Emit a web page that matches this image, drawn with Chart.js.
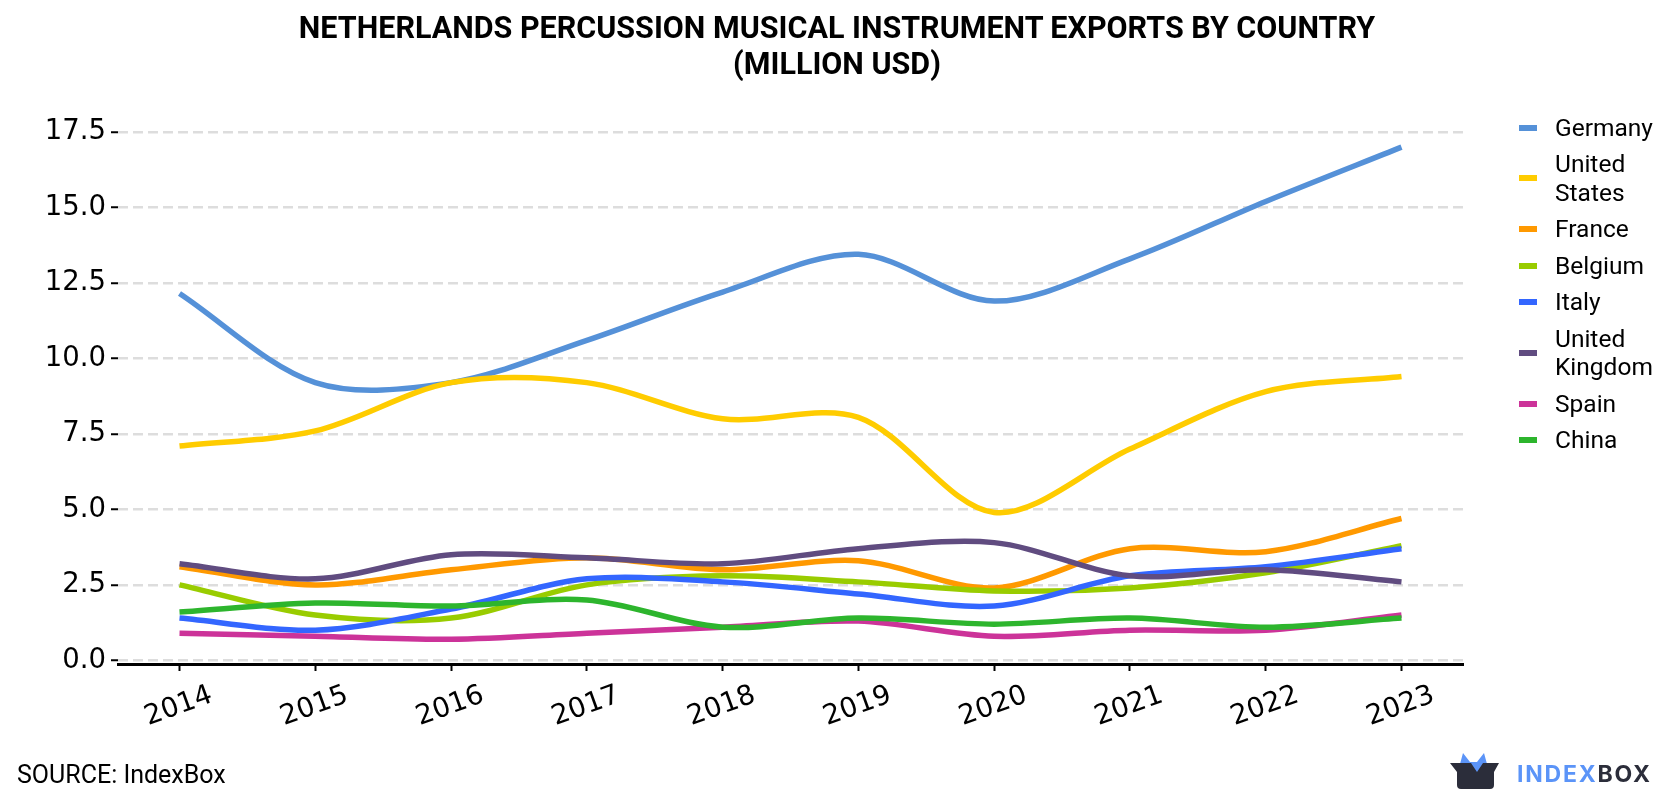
<!DOCTYPE html>
<html>
<head>
<meta charset="utf-8">
<title>Netherlands percussion exports</title>
<script src="https://cdn.jsdelivr.net/npm/chart.js@4"></script>
<style>
  html, body { margin:0; padding:0; background:#fff; }
  body { width:1680px; height:800px; position:relative; overflow:hidden; font-family:Roboto, sans-serif; color:#000; }
  #wrap { position:absolute; left:0; top:0; width:1680px; height:800px; }
  h1 { position:absolute; left:0; top:10px; width:1674px; margin:0; text-align:center; font-size:30.5px; line-height:36px; font-weight:700; }
  #legend { position:absolute; left:1519px; top:114px; margin:0; padding:0; list-style:none; font-size:24.5px; line-height:28.3px; }
  #legend li { position:relative; padding-left:36px; margin-bottom:8.2px; }
  #legend i { position:absolute; left:0; top:11px; width:18px; height:6px; }
  #legend li.two i { top:25px; }
  #source { position:absolute; left:17px; top:761px; font-size:25px; line-height:28px; }
  #logo { position:absolute; left:1448px; top:750px; }
  #logo-text { position:absolute; left:1517px; top:760px; font-family:Inter, sans-serif; font-size:23px; line-height:28px; font-weight:700; letter-spacing:1.8px; color:#2b2d3a; }
  #logo-text span { color:#5b94f8; }
</style>
</head>
<body>
<div id="wrap"><canvas id="chart" width="1680" height="800"></canvas></div>
<h1>NETHERLANDS PERCUSSION MUSICAL INSTRUMENT EXPORTS BY COUNTRY<br>(MILLION USD)</h1>
<ul id="legend"></ul>
<div id="source">SOURCE: IndexBox</div>
<svg id="logo" width="54" height="42" viewBox="0 0 54 42">
  <path d="M12 14 L15 3 L22 12 L29 12 L36 3 L39 14 L39 24 L12 24 Z" fill="#5b94f8"/>
  <path d="M2 13 L23 13 L29 22 L35 13 L51 13 L46 22 L46 35 Q46 39 42 39 L13 39 Q9 39 9 35 L9 22 Z" fill="#2b2d3a"/>
</svg>
<div id="logo-text"><span>INDEX</span>BOX</div>

<script>
const years = [2014, 2015, 2016, 2017, 2018, 2019, 2020, 2021, 2022, 2023];
const yTicks = [0, 2.5, 5, 7.5, 10, 12.5, 15, 17.5];

const germany = [12.15, 9.2, 9.2, 10.6, 12.2, 13.45, 11.9, 13.3, 15.2, 17.0];
const unitedStates = [7.1, 7.6, 9.2, 9.2, 8.0, 8.05, 4.9, 7.0, 8.9, 9.4];
const france = [3.1, 2.5, 3.0, 3.4, 3.0, 3.3, 2.4, 3.7, 3.6, 4.7];
const belgium = [2.5, 1.5, 1.4, 2.5, 2.8, 2.6, 2.3, 2.4, 2.9, 3.8];
const italy = [1.4, 1.0, 1.7, 2.7, 2.6, 2.2, 1.8, 2.8, 3.1, 3.7];
const unitedKingdom = [3.2, 2.7, 3.5, 3.4, 3.2, 3.7, 3.9, 2.8, 3.0, 2.6];
const spain = [0.9, 0.8, 0.7, 0.9, 1.1, 1.3, 0.8, 1.0, 1.0, 1.5];
const china = [1.6, 1.9, 1.8, 2.0, 1.1, 1.4, 1.2, 1.4, 1.1, 1.4];

const series = [
  { name: ['Germany'], color: '#5591d8', values: germany },
  { name: ['United', 'States'], color: '#ffcc00', values: unitedStates },
  { name: ['France'], color: '#ff9900', values: france },
  { name: ['Belgium'], color: '#99cc00', values: belgium },
  { name: ['Italy'], color: '#3366ff', values: italy },
  { name: ['United', 'Kingdom'], color: '#604c80', values: unitedKingdom },
  { name: ['Spain'], color: '#cc3399', values: spain },
  { name: ['China'], color: '#2db52d', values: china },
];

// legend is plain html so the two-line names wrap like normal text
document.getElementById('legend').innerHTML = series.map(s =>
  `<li class="${s.name.length > 1 ? 'two' : ''}"><i style="background:${s.color}"></i>${s.name.join('<br>')}</li>`
).join('');

const tickFont = { family: '"DejaVu Sans"', size: 27.5 };

new Chart(document.getElementById('chart').getContext('2d'), {
  type: 'line',
  data: {
    datasets: series.map((s, i) => ({
      label: s.name.join(' '),
      data: years.map((year, j) => ({ x: year, y: s.values[j] })),
      borderColor: s.color,
      backgroundColor: s.color,
      borderWidth: 5.5,
      pointRadius: 0,
      tension: 0.32,
      fill: false,
      order: series.length - i, // later series sit on top
    })),
  },
  options: {
    responsive: false,
    animation: false,
    layout: { padding: { top: 132, right: 217, bottom: 0, left: 0 } },
    plugins: { legend: { display: false }, title: { display: false }, tooltip: { enabled: false } },
    scales: {
      x: {
        type: 'linear',
        min: 2013.547,
        max: 2023.453,
        afterBuildTicks: (axis) => { axis.ticks = years.map(value => ({ value })); },
        afterFit: (axis) => { axis.height = 136; },
        border: { display: true, color: '#000', width: 3 },
        grid: { drawOnChartArea: false, drawTicks: true, color: '#000', tickColor: '#000', tickWidth: 2, tickLength: 7 },
        ticks: {
          font: tickFont, color: '#000', minRotation: 20, maxRotation: 20, padding: 8, labelOffset: 32,
          callback: (v) => String(v),
        },
      },
      y: {
        min: -0.12,
        max: 17.5,
        afterBuildTicks: (axis) => { axis.ticks = yTicks.map(value => ({ value })); },
        afterFit: (axis) => { axis.width = 118; },
        border: { display: false, dash: [10, 5] },
        grid: { color: '#dddddd', lineWidth: 2.5, drawTicks: true, tickColor: '#000', tickWidth: 2, tickLength: 7, tickBorderDash: [] },
        ticks: { font: tickFont, color: '#000', padding: 5, callback: (v) => v.toFixed(1) },
      },
    },
  },
});
</script>
</body>
</html>
